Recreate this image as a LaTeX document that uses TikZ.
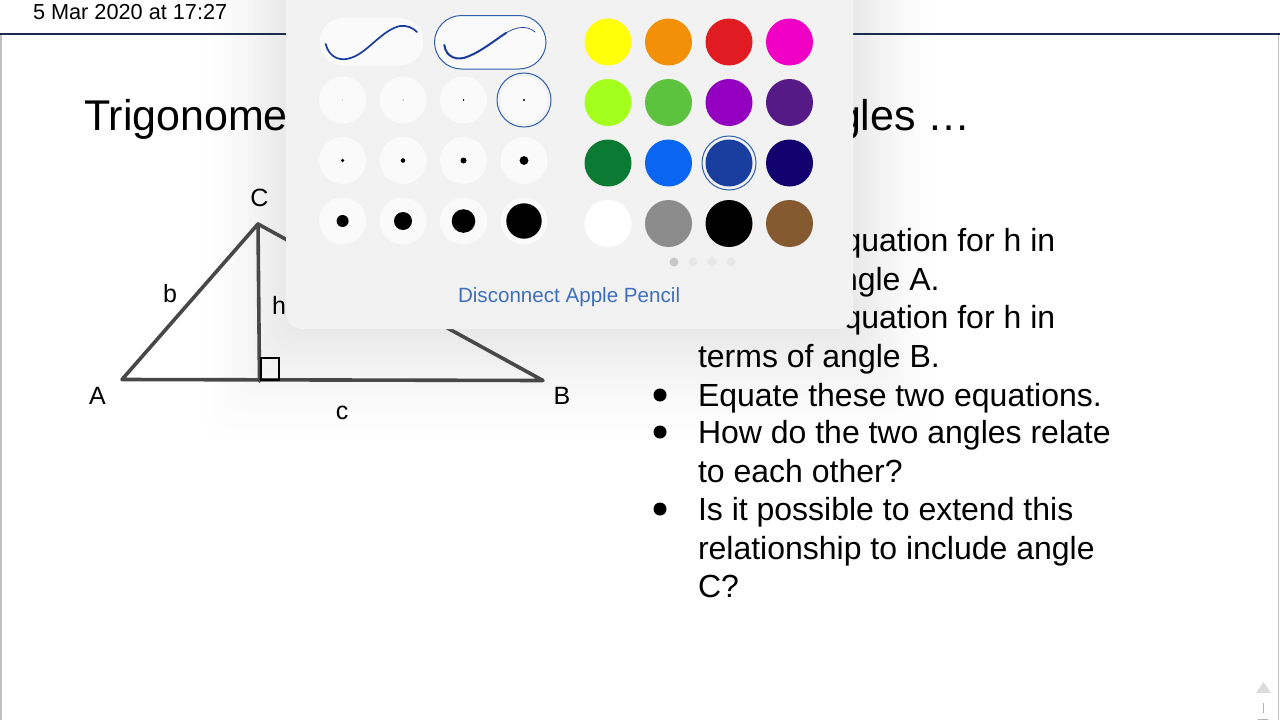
\documentclass[tikz,border=0pt]{standalone}
\usepackage{fontspec}
\setmainfont{Liberation Sans}
\definecolor{rule}{HTML}{1B2A4E}
\definecolor{edge}{HTML}{484848}
\definecolor{panelbg}{HTML}{F2F2F2}
\definecolor{well}{HTML}{FAFAFA}
\definecolor{sel}{HTML}{2F5FAE}
\definecolor{ink}{HTML}{1A3C9C}
\definecolor{link}{HTML}{3F6FBC}
\tikzset{
  every node/.style={inner sep=0pt,outer sep=0pt,text=black},
  tx/.style={anchor=base west},
  title/.style={tx,font=\fontsize{43}{43}\selectfont},
  body/.style={tx,font=\fontsize{32}{32}\selectfont},
  lab/.style={font=\fontsize{25}{25}\selectfont},
  side/.style={draw=edge,line width=3.6pt,line cap=round,line join=round},
  bul/.style={circle,fill=black,minimum size=13pt},
  wellc/.style={circle,fill=well,minimum size=47pt},
  swatch/.style={circle,minimum size=47pt},
  pagedot/.style={circle,minimum size=9pt},
}
\begin{document}
\begin{tikzpicture}[x=1pt,y=-1pt]
\useasboundingbox (0,0) rectangle (1280,720);
\fill[white] (0,0) rectangle (1280,720);
% soft shadow, drawn under the slide content
\foreach \i in {40,39,...,1}{
  \pgfmathsetmacro{\p}{9*pow(1-\i/41,1.6)}
  \fill[black!\p!white,rounded corners=22pt]
    ({286-\i*2.2},-40) rectangle ({853+\i*2.2},{329+\i*3.0});
}
% frame
\coordinate (rl) at (0,34); \coordinate (rr) at (1280,34);
\draw[rule,line width=1.5pt] (rl) -- (rr);
\draw[black!25,line width=1.5pt] (1,35) -- (1,720);
\draw[black!25,line width=1.5pt] (1278.5,35) -- (1278.5,720);
\node[tx,font=\fontsize{21.7}{22}\selectfont] (date) at (33,19.8) {5 Mar 2020 at 17:27};
% slide text
\node[title] (t1) at (84,130) {Trigonome};
\node[title] (t2) at (837,130) {gles …};
\node[body] (l1) at (843.5,251.2) {quation for h in};
\node[body] (l2) at (840,290.2) {ngle A.};
\node[body] (l3) at (843.5,328.2) {quation for h in};
\node[body] (l4) at (698,367.2) {terms of angle B.};
\node[body] (l5) at (698,406.2) {Equate these two equations.};
\node[body] (l6) at (698,443.2) {How do the two angles relate};
\node[body] (l7) at (698,482.2) {to each other?};
\node[body] (l8) at (698,520.2) {Is it possible to extend this};
\node[body] (l9) at (698,559.2) {relationship to include angle};
\node[body] (l10) at (698,597.2) {C?};
\node[bul] (b1) at (660,395) {};
\node[bul] (b2) at (660,432) {};
\node[bul] (b3) at (660,509) {};
% triangle
\coordinate (A) at (122,379.5);
\coordinate (B) at (543,380.5);
\coordinate (C) at (258,224);
\coordinate (F) at (259.5,381);
\draw[side] (A) -- (C) -- (B) -- cycle;
\draw[side] (C) -- (F);
\draw[black,line width=2.4pt] (261,358) rectangle (279,380);
\node[lab] (na) at (97.5,395.5) {A};
\node[lab] (nb) at (562,395.5) {B};
\node[lab] (nc) at (259.5,198) {C};
\node[lab] (sb) at (170,294) {b};
\node[lab] (sh) at (279,305) {h};
\node[lab] (sc) at (342,412.5) {c};
% scroll hint
\fill[black!14] (1256,693) -- (1263.5,682) -- (1271,693) -- cycle;
\coordinate (s1) at (1263,703); \coordinate (s2) at (1263,713);
\draw[black!30,line width=1pt] (s1) -- (s2);
\fill[black!30] (1258,719) rectangle (1268,720);
% panel
\fill[panelbg,rounded corners=16pt] (286,-40) rectangle (853,329);
% pen pills
\fill[well,rounded corners=23pt] (320,18) rectangle (423,65.5);
\draw[sel,fill=well,line width=1pt,rounded corners=27pt] (434.5,15.5) rectangle (546,69);
\coordinate (p1) at (325.7,44); \coordinate (p2) at (417,32);
\draw[ink,line width=1.7pt,line cap=round] (p1) .. controls (329,58) and (341,62) .. (352,57.5)
  .. controls (368,52) and (382,30) .. (400,26) .. controls (407,25) and (413,28) .. (p2);
\coordinate (q1) at (444.3,45); \coordinate (q2) at (535,32);
\draw[ink,line width=2pt,line cap=round] (q1) .. controls (446,58) and (458,61) .. (468,56.5)
  .. controls (482,51) and (495,40) .. (506,33);
\draw[ink,line width=0.7pt,line cap=round] (506,33) .. controls (514,28) and (526,24) .. (q2);
% nib grid
\foreach \x/\n in {342.6/a,403/b,463.5/c,524/d}{
  \foreach \y/\m in {100/r,160.5/s,221/t}{
    \node[wellc] (w\n\m) at (\x,\y) {};
  }
}
\draw[sel,line width=1pt] (524,100) circle (27);
\foreach \x/\y/\r in {342.6/100/0.3,403/100/0.5,463.5/100/0.8,524/100/1.1,
  342.6/160.5/1.7,403/160.5/2.3,463.5/160.5/3,524/160.5/4.4,
  342.6/221/6,403/221/9,463.5/221/11.8,524/221/17.7}{
  \fill[black] (\x,\y) circle (\r);
}
% swatches
\foreach \x/\y/\c in {608/42/FFFF0A,668.5/42/F29107,729/42/E01B22,789.5/42/F000C4,
  608/102.5/A4FF1C,668.5/102.5/5DC23E,729/102.5/9400C0,789.5/102.5/561A86,
  608/163/0B7A33,668.5/163/0A66F2,729/163/1A3DA0,789.5/163/12006E,
  608/223.5/FFFFFF,668.5/223.5/8C8C8C,729/223.5/000000,789.5/223.5/855A30}{
  \definecolor{sw}{HTML}{\c}
  \node[swatch,fill=sw] at (\x,\y) {};
}
\draw[sel,line width=1pt] (729,163) circle (27);
% page dots
\node[pagedot,fill=black!22] (d1) at (674,262) {};
\node[pagedot,fill=black!9] (d2) at (693,262) {};
\node[pagedot,fill=black!9] (d3) at (712,262) {};
\node[pagedot,fill=black!9] (d4) at (731,262) {};
\node[tx,text=link,font=\fontsize{20.6}{21}\selectfont] (dis) at (458,302) {Disconnect Apple Pencil};
\end{tikzpicture}
\end{document}
